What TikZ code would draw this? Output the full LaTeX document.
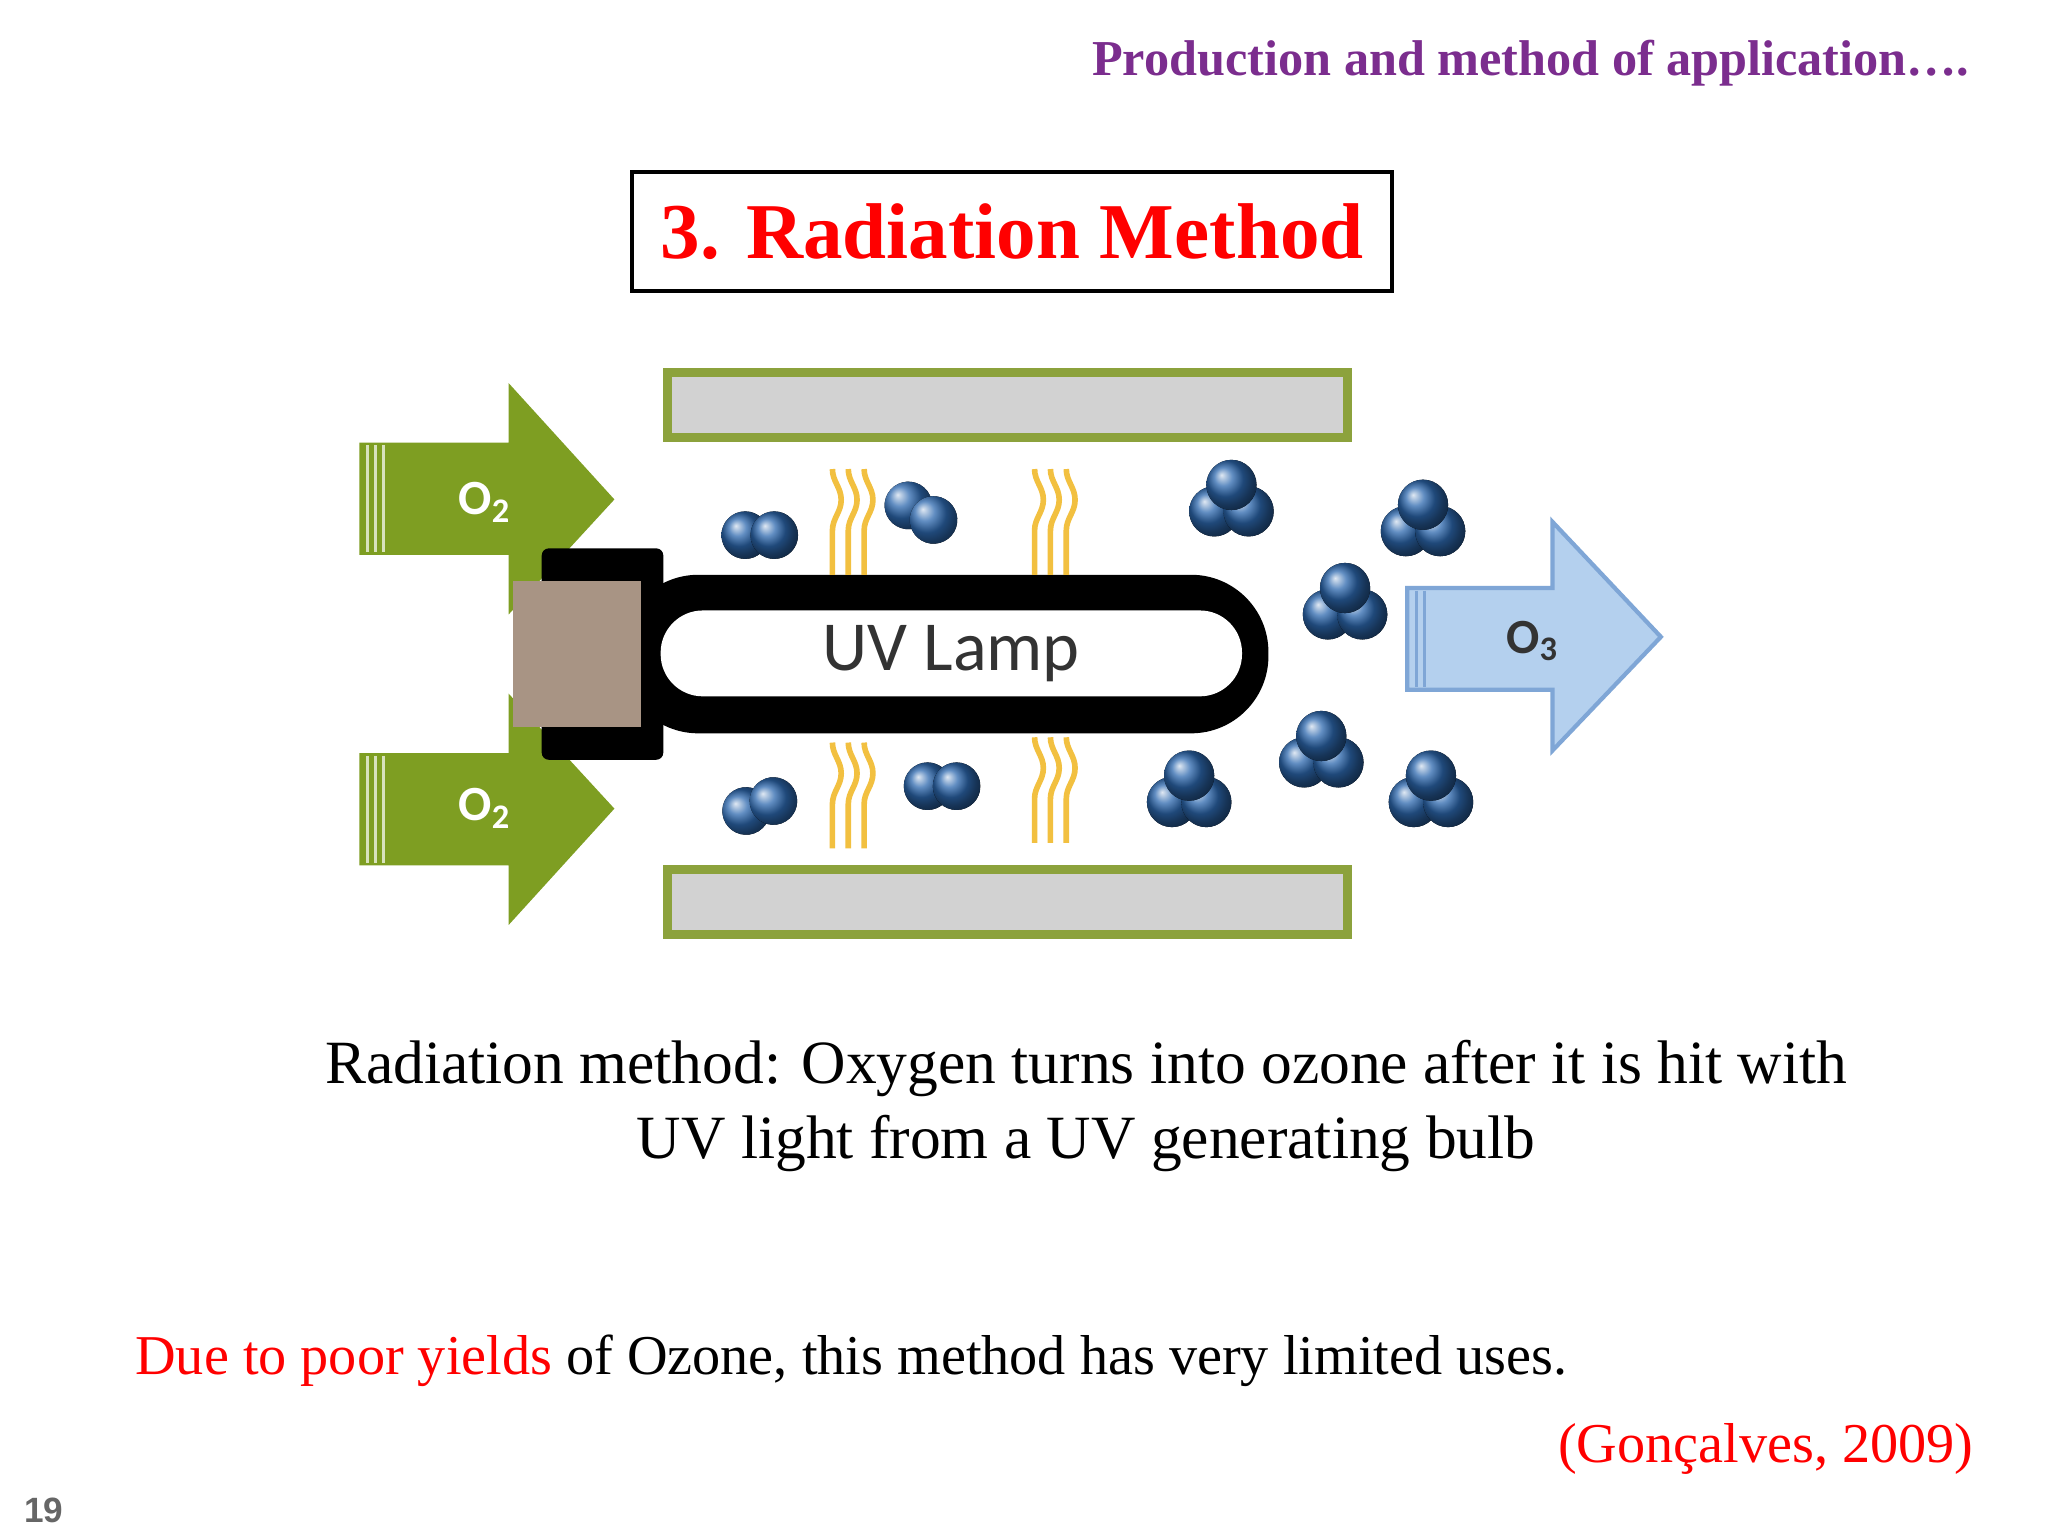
\documentclass[tikz,border=0pt]{standalone}
\usepackage{fontspec}
\setmainfont{Liberation Serif}
\newfontfamily\sansf{Carlito}
\newfontfamily\arialf{Liberation Sans}
\usetikzlibrary{decorations.pathmorphing}
\definecolor{ttl}{HTML}{7B2D8E}
\definecolor{grn}{HTML}{7E9E22}
\definecolor{plate}{HTML}{8CA23C}
\definecolor{brn}{HTML}{A89484}
\definecolor{lb}{HTML}{B4D0EE}
\definecolor{lbd}{HTML}{7FA6D6}
\definecolor{mol}{HTML}{2D68AE}
\definecolor{uvy}{HTML}{F2C040}
\tikzset{
  platebox/.style={draw=plate,line width=2.5pt,fill=gray!35},
  garrow/.style={fill=grn},
  atom/.style={ball color=mol,draw=none},
  wave/.style={draw=uvy,line width=1.6pt,decorate,decoration={snake,amplitude=2.5pt,segment length=28pt}},
  pics/otwo/.style={code={\fill[atom] (-11,0) circle (18); \fill[atom] (11,0) circle (18);}},
  pics/othree/.style={code={\fill[atom] (-13,5) circle (19); \fill[atom] (13,5) circle (19); \fill[atom] (0,-15) circle (19);}},
  pics/uv/.style={code={\foreach \dx in {-12,0,12} \draw[wave] (\dx,-40) -- (\dx,40);}}
}
\begin{document}
\begin{tikzpicture}[x=0.01321cm,y=-0.01321cm]
\useasboundingbox[fill=white] (0,0) rectangle (1550,1163);
\node[anchor=east,text=ttl,font=\bfseries\fontsize{14.3}{17}\selectfont] (ttl) at (1500,48) {Production and method of application….};
\node[draw,line width=1.2pt,minimum width=575*0.01321cm,minimum height=90*0.01321cm,text=red,font=\bfseries\fontsize{22.5}{26}\selectfont] (box) at (766,175) {3. Radiation Method};
% plates
\draw[platebox] (505,282) rectangle (1020,331);
\draw[platebox] (505,658) rectangle (1020,707);
% green arrows
\fill[garrow] (272,335) -- (385,335) -- (385,290) -- (465,378) -- (385,465) -- (385,420) -- (272,420) -- cycle;
\fill[garrow] (272,570) -- (385,570) -- (385,525) -- (465,612) -- (385,700) -- (385,655) -- (272,655) -- cycle;
\foreach \x in {278,284,290} {\draw[white!70!grn,line width=0.8pt] (\x,337) -- (\x,418); \draw[white!70!grn,line width=0.8pt] (\x,572) -- (\x,653);}
\node[text=white,font=\sansf\bfseries\fontsize{14}{16}\selectfont] (o2a) at (367,380) {O\textsubscript{2}};
\node[text=white,font=\sansf\bfseries\fontsize{14}{16}\selectfont] (o2b) at (367,612) {O\textsubscript{2}};
% lamp
\fill[black,rounded corners=2pt] (410,415) rectangle (502,575);
\fill[black,rounded corners=22pt] (470,435) rectangle (960,555);
\fill[white,rounded corners=12pt] (500,462) rectangle (940,527);
\fill[brn] (388,440) rectangle (485,550);
\node[font=\sansf\fontsize{20}{24}\selectfont,text=black!80] (uvl) at (720,495) {UV Lamp};
% blue arrow
\draw[fill=lb,draw=lbd,line width=1.2pt] (1065,445) -- (1175,445) -- (1175,395) -- (1257,482) -- (1175,568) -- (1175,522) -- (1065,522) -- cycle;
\foreach \x in {1072,1078} \draw[lbd,line width=0.8pt] (\x,447) -- (\x,520);
\node[font=\sansf\bfseries\fontsize{14}{16}\selectfont,text=black!80] (o3) at (1160,485) {O\textsubscript{3}};
% molecules
\pic at (575,405) {otwo};
\pic[rotate=-30] at (697,388) {otwo};
\pic[rotate=20] at (575,610) {otwo};
\pic at (713,595) {otwo};
\pic at (932,382) {othree};
\pic at (1077,397) {othree};
\pic at (1018,460) {othree};
\pic at (900,602) {othree};
\pic at (1000,572) {othree};
\pic at (1083,602) {othree};
% uv
\pic at (642,395) {uv};
\pic at (795,395) {uv};
\pic at (642,602) {uv};
\pic at (795,598) {uv};
% texts
\node[align=center,font=\fontsize{17.5}{21.5}\selectfont] (cap) at (822,837) {Radiation method: Oxygen turns into ozone after it is hit with\\UV light from a UV generating bulb};
\node[anchor=west,font=\fontsize{16}{19}\selectfont] (due) at (93,1030) {\textcolor{red}{Due to poor yields} of Ozone, this method has very limited uses.};
\node[anchor=east,text=red,font=\fontsize{16}{19}\selectfont] (ref) at (1503,1097) {(Gonçalves, 2009)};
\node[text=black!60,font=\arialf\bfseries\fontsize{10}{12}\selectfont] (pg) at (33,1143) {19};
\end{tikzpicture}
\end{document}
